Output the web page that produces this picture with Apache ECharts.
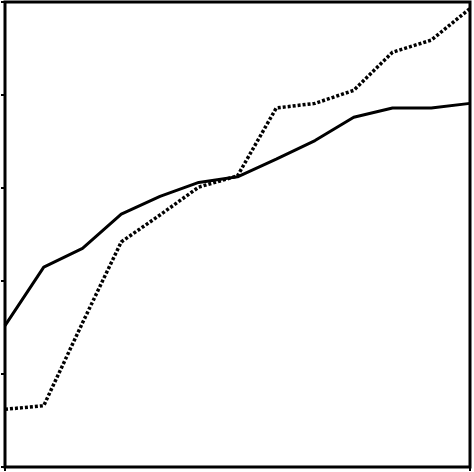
<!DOCTYPE html>
<html><head><meta charset="utf-8">
<script src="https://cdn.jsdelivr.net/npm/echarts@6/dist/echarts.min.js"></script>
<style>html,body{margin:0;padding:0;background:#fff}#c{width:474px;height:472px}</style>
</head><body><div id="c"></div>
<script>
var categories = ['1','2','3','4','5','6','7','8','9','10','11','12','13'];
var solidSeries = [1.52, 2.15, 2.35, 2.72, 2.91, 3.06, 3.12, 3.31, 3.51, 3.76, 3.86, 3.86, 3.91];
var dottedSeries = [0.62, 0.66, 1.55, 2.42, 2.71, 3.01, 3.13, 3.86, 3.91, 4.05, 4.46, 4.59, 4.93];
var yTicks = [0, 1, 2, 3, 4, 5];

var chart = echarts.init(document.getElementById('c'));
chart.setOption({
  animation: false,
  backgroundColor: '#fff',
  grid: {left: 5, right: 4, top: 2, bottom: 5, show: true, borderColor: '#000', borderWidth: 3, containLabel: false},
  xAxis: {
    type: 'category', data: categories, boundaryGap: false,
    axisLine: {show: false},
    axisTick: {show: true, inside: false, length: 4, interval: 11, lineStyle: {color: '#000', width: 2}},
    axisLabel: {show: false},
    splitLine: {show: false}
  },
  yAxis: {
    type: 'value', min: yTicks[0], max: yTicks[yTicks.length - 1], interval: 1,
    axisLine: {show: false},
    axisTick: {show: true, inside: false, length: 4, lineStyle: {color: '#000', width: 2}},
    axisLabel: {show: false},
    splitLine: {show: false}
  },
  series: [
    {type: 'line', data: solidSeries, symbol: 'none', lineStyle: {color: '#000', width: 3, type: 'solid'}},
    {type: 'line', data: dottedSeries, symbol: 'none', lineStyle: {color: '#000', width: 3.5, type: [3, 2]}}
  ]
});
</script></body></html>
